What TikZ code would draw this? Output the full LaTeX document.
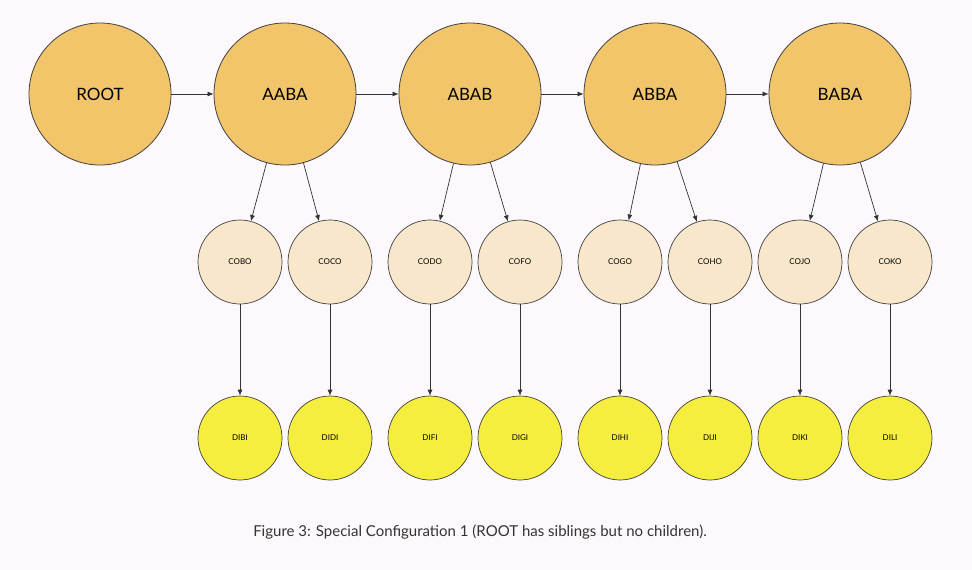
\documentclass[tikz,border=0pt]{standalone}
\usepackage{fontspec}
\setmainfont{Lato}
\usetikzlibrary{arrows.meta}
\definecolor{bigc}{HTML}{F2C56B}
\definecolor{midc}{HTML}{F8E7CB}
\definecolor{lowc}{HTML}{F6EE3E}
\definecolor{bg}{HTML}{FCF8FB}
\begin{document}
\begin{tikzpicture}[x=1pt,y=-1pt,
 big/.style={circle,draw=black!75,line width=0.8pt,fill=bigc,minimum size=142pt,inner sep=0pt,font=\fontsize{17}{17}\selectfont},
 mid/.style={circle,draw=black!75,line width=0.7pt,fill=midc,minimum size=84pt,inner sep=0pt,font=\fontsize{8}{8}\selectfont},
 low/.style={circle,draw=black!75,line width=0.7pt,fill=lowc,minimum size=84pt,inner sep=0pt,font=\fontsize{8}{8}\selectfont},
 arr/.style={-{Latex[length=6pt,width=5pt]},draw=black!80,line width=0.7pt}]
\fill[bg] (0,0) rectangle (972,570);
\useasboundingbox (0,0) rectangle (972,570);
\node[big] (root) at (100,94) {ROOT};
\node[big] (aaba) at (285,94) {AABA};
\node[big] (abab) at (470,94) {ABAB};
\node[big] (abba) at (655,94) {ABBA};
\node[big] (baba) at (840,94) {BABA};
\foreach \a/\b in {root/aaba,aaba/abab,abab/abba,abba/baba}
  \draw[arr] (\a) -- (\b);
\foreach \n/\m/\x/\p in {cobo/dibi/240/aaba,coco/didi/330/aaba,codo/difi/430/abab,cofo/digi/520/abab,cogo/dihi/620/abba,coho/diji/710/abba,cojo/diki/800/baba,coko/dili/890/baba}{
  \node[mid] (\n) at (\x,262) {\MakeUppercase{\n}};
  \node[low] (\m) at (\x,438) {\MakeUppercase{\m}};
  \draw[arr] (\p) -- (\n);
  \draw[arr] (\n) -- (\m);
}
\node[font=\fontsize{15}{15}\selectfont,text=black!80] (cap) at (480,532) {Figure 3: Special Configuration 1 (ROOT has siblings but no children).};
\end{tikzpicture}
\end{document}
